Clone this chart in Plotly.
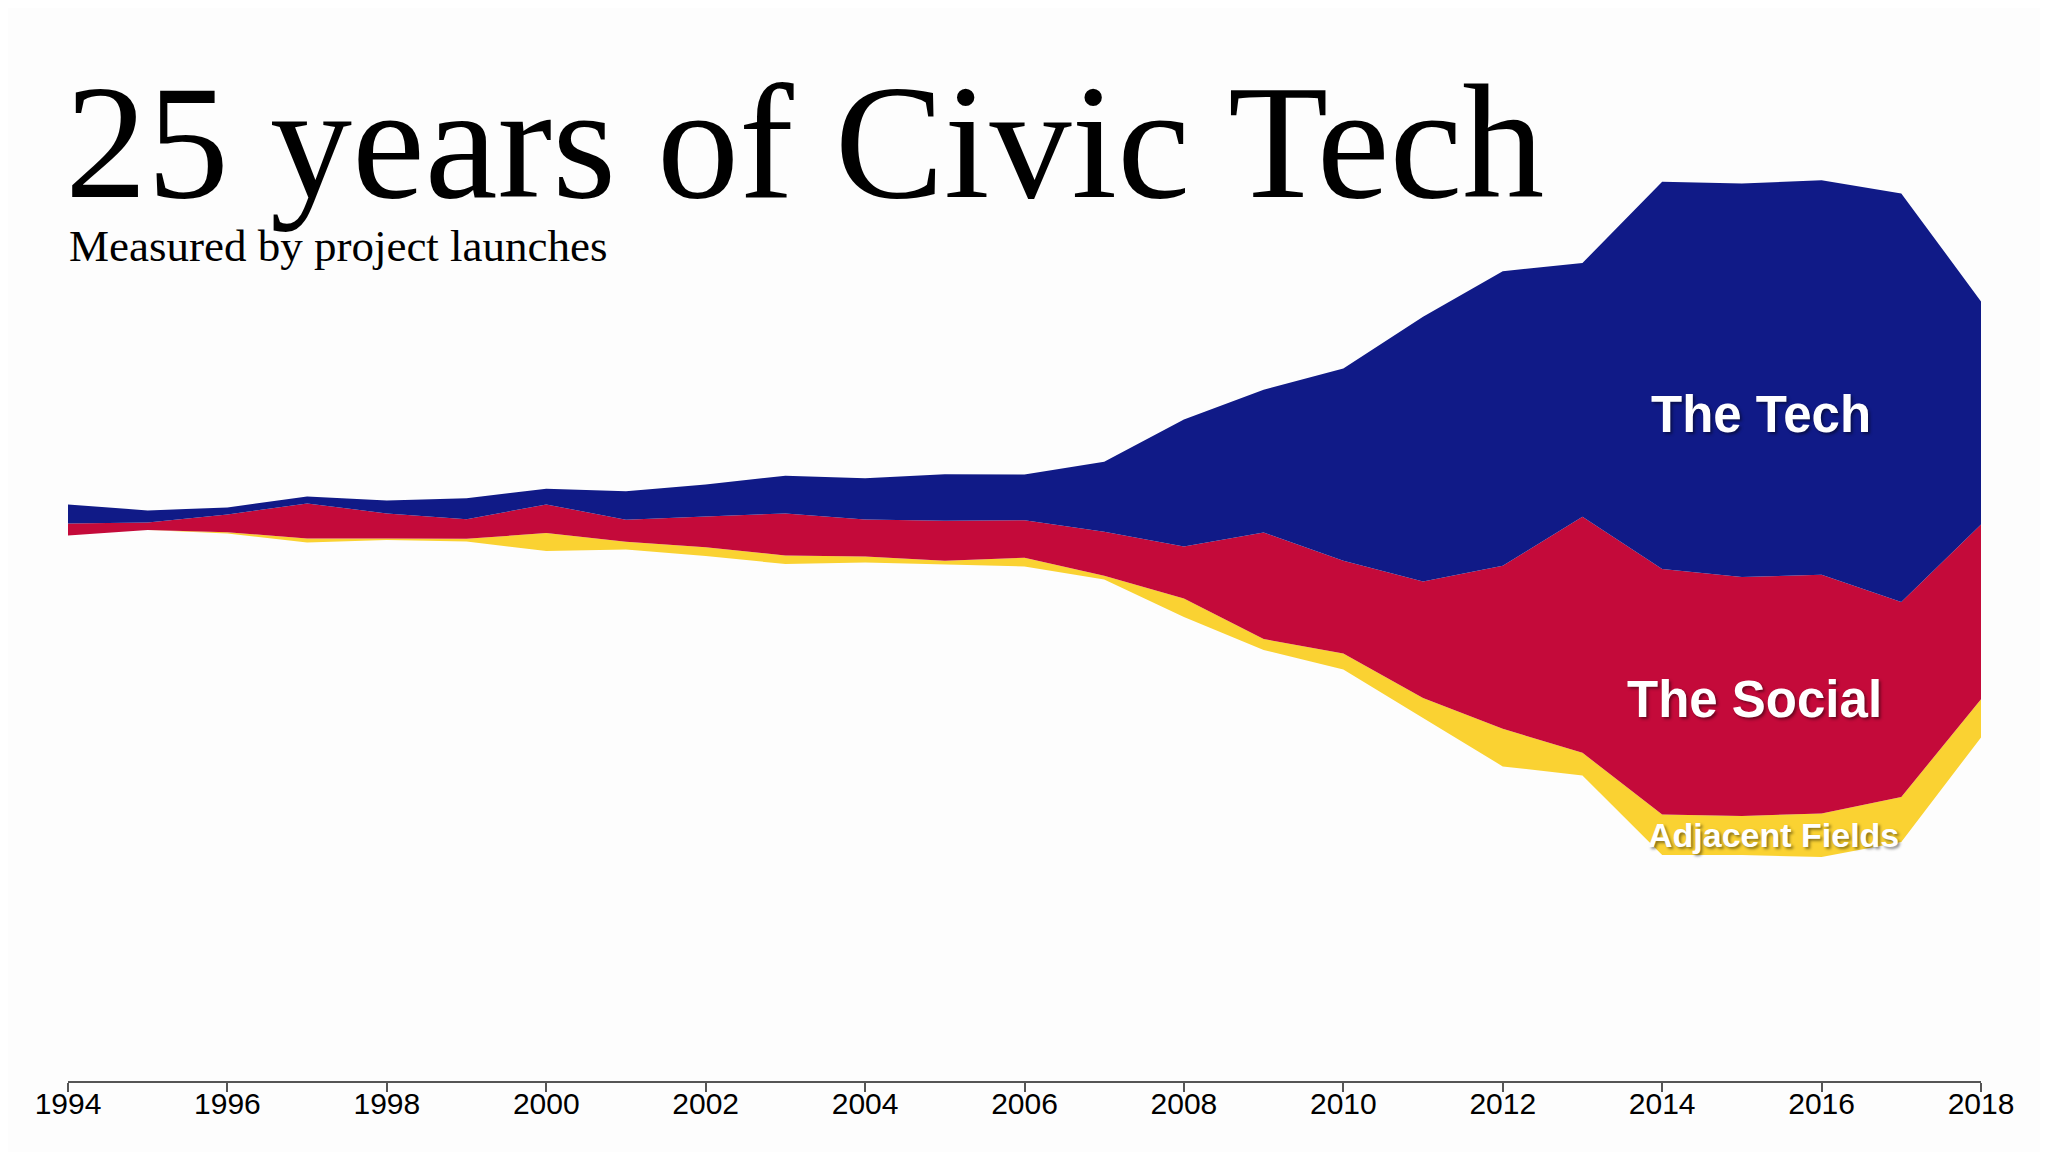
import plotly.graph_objects as go

# ---- data ----
years = list(range(1994, 2019))

# offset of the stream's lower edge (streamgraph baseline)
baseline = [272.7, 275.5, 273.8, 269.3, 270.5, 269.8, 265.0, 265.8, 262.5, 258.5,
            259.3, 258.3, 257.3, 250.8, 232.0, 215.5, 205.8, 181.5, 157.3, 152.8,
            113.0, 113.0, 112.0, 119.5, 171.8]

adjacent = [0.0, 0.0, 0.6, 2.0, 0.8, 1.3, 9.0, 3.8, 4.4, 4.3,
            3.0, 1.8, 4.3, 1.8, 9.3, 5.5, 8.0, 10.0, 18.8, 11.3,
            20.3, 19.5, 21.8, 22.5, 19.1]

social = [6.1, 3.7, 8.9, 17.5, 12.5, 9.8, 14.3, 11.0, 15.3, 21.0,
          18.5, 20.0, 18.8, 22.0, 26.0, 53.3, 46.3, 58.3, 81.5, 118.0,
          122.7, 119.5, 119.3, 97.5, 87.4]

tech = [9.5, 6.1, 3.5, 3.5, 6.4, 10.5, 7.8, 14.3, 16.1, 18.8,
        20.6, 23.3, 22.8, 35.0, 63.5, 71.3, 96.1, 132.3, 147.3, 126.9,
        193.6, 196.7, 197.3, 204.3, 111.5]

series_names = ["Adjacent Fields", "The Social", "The Tech"]
tick_years = list(range(1994, 2019, 2))

title_text = "25 years of Civic Tech"
subtitle_text = "Measured by project launches"

# ---- styles ----
colors = {"Adjacent Fields": "#FAD232", "The Social": "#C40A3A", "The Tech": "#101A87"}

fig = go.Figure()

fig.add_trace(go.Scatter(
    x=years, y=baseline, stackgroup="s", mode="lines",
    line=dict(width=0), fillcolor="rgba(0,0,0,0)", hoverinfo="skip", showlegend=False))

for name, vals in zip(series_names, [adjacent, social, tech]):
    fig.add_trace(go.Scatter(
        x=years, y=vals, stackgroup="s", mode="lines", name=name,
        line=dict(width=0, color=colors[name]), fillcolor=colors[name], showlegend=False))

label_font = "Liberation Sans, Arial, Helvetica, sans-serif"
serif_font = "Liberation Serif, Times New Roman, serif"
shadow = "2px 2px 3px rgba(0,0,0,0.45)"
annotations = [
    dict(x=2015.24, y=333.5, xref="x", yref="y", text="<b>The Tech</b>", showarrow=False,
         xanchor="center", yanchor="middle",
         font=dict(family=label_font, size=51, color="white", shadow=shadow)),
    dict(x=2015.16, y=191, xref="x", yref="y", text="<b>The Social</b>", showarrow=False,
         xanchor="center", yanchor="middle",
         font=dict(family=label_font, size=51, color="white", shadow=shadow)),
    dict(x=2015.4, y=123, xref="x", yref="y", text="<b>Adjacent Fields</b>", showarrow=False,
         xanchor="center", yanchor="middle",
         font=dict(family=label_font, size=34, color="white", shadow=shadow)),
    dict(x=-0.002, y=0.958, xref="paper", yref="paper", text=title_text, showarrow=False,
         xanchor="left", yanchor="middle", borderpad=0,
         font=dict(family=serif_font, size=164, color="black")),
    dict(x=0.0, y=0.851, xref="paper", yref="paper", text=subtitle_text, showarrow=False,
         xanchor="left", yanchor="middle", borderpad=0,
         font=dict(family=serif_font, size=45, color="black")),
]

fig.update_layout(
    width=2040, height=1144,
    margin=dict(l=60, r=67, t=92, b=71),
    paper_bgcolor="#FDFDFD", plot_bgcolor="#FDFDFD",
    annotations=annotations,
    xaxis=dict(range=[1994, 2018], tickvals=tick_years, ticktext=[str(t) for t in tick_years],
               showgrid=False, zeroline=False, showline=True, linecolor="#555555", linewidth=2,
               ticks="outside", ticklen=9, tickwidth=1.5, tickcolor="#555555",
               ticklabelstandoff=-14,
               tickfont=dict(family=label_font, size=30, color="black")),
    yaxis=dict(range=[0, 490.5], visible=False, showgrid=False, zeroline=False),
    hovermode=False,
)

fig.write_html("out.html")
